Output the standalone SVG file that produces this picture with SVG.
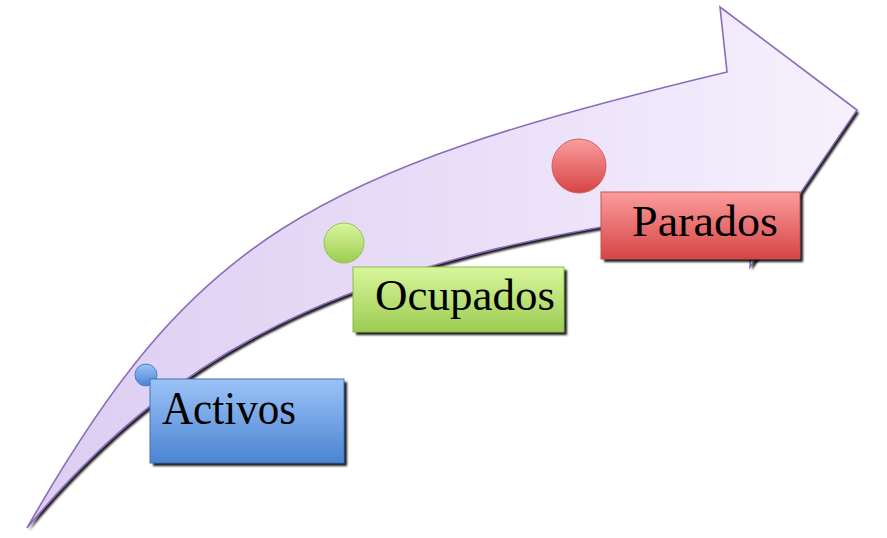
<svg xmlns="http://www.w3.org/2000/svg" width="887" height="538" viewBox="0 0 887 538">
<defs>
<linearGradient id="gArrow" x1="0" y1="0" x2="1" y2="0">
<stop offset="0" stop-color="#dccdf2"/>
<stop offset="0.6" stop-color="#ebe1f9"/>
<stop offset="1" stop-color="#f6f1fd"/>
</linearGradient>
<linearGradient id="gBlue" x1="0" y1="0" x2="0" y2="1">
<stop offset="0" stop-color="#9cc3f7"/>
<stop offset="1" stop-color="#4a84d2"/>
</linearGradient>
<linearGradient id="gGreen" x1="0" y1="0" x2="0" y2="1">
<stop offset="0" stop-color="#d9f69c"/>
<stop offset="1" stop-color="#9ccc52"/>
</linearGradient>
<linearGradient id="gRed" x1="0" y1="0" x2="0" y2="1">
<stop offset="0" stop-color="#fb9d9d"/>
<stop offset="1" stop-color="#d64444"/>
</linearGradient>
<filter id="blur" x="-10%" y="-10%" width="120%" height="120%">
<feGaussianBlur stdDeviation="1"/>
</filter>
</defs>
<style>
.lbl{font-family:"Liberation Serif","DejaVu Serif",serif;font-size:45px;fill:#000}
.shadow{fill:#000;opacity:0.9;filter:url(#blur)}
</style>
<g id="arrow">
<path class="shadow" transform="translate(2,3)" d="M27,528 C192,238 309,172 727,72 L720,7 L857,110 L750,267 L752,205 C370,251 187,336 27,528 Z"/>
<path d="M27,528 C192,238 309,172 727,72 L720,7 L857,110 L750,267 L752,205 C370,251 187,336 27,528 Z" fill="url(#gArrow)" stroke="#8b6cb9" stroke-width="1.6" stroke-linejoin="miter"/>
</g>
<g id="activos">
<circle cx="146" cy="375" r="11" fill="url(#gBlue)" stroke="#4d80c4" stroke-width="1"/>
<rect class="shadow" x="153" y="382" width="194" height="84"/>
<rect x="150" y="379" width="194" height="84" fill="url(#gBlue)" stroke="#3f72b8" stroke-width="1"/>
<text class="lbl" x="162" y="424" style="font-size:46px" textLength="134" lengthAdjust="spacingAndGlyphs">Activos</text>
</g>
<g id="ocupados">
<circle cx="344" cy="243" r="20" fill="url(#gGreen)" stroke="#9cc458" stroke-width="1"/>
<rect class="shadow" x="356" y="270" width="211" height="65"/>
<rect x="353" y="267" width="211" height="65" fill="url(#gGreen)" stroke="#8cba48" stroke-width="1"/>
<text class="lbl" x="375" y="310" textLength="180" lengthAdjust="spacingAndGlyphs">Ocupados</text>
</g>
<g id="parados">
<circle cx="579" cy="166" r="27" fill="url(#gRed)" stroke="#d06060" stroke-width="1"/>
<rect class="shadow" x="604" y="195" width="199" height="67"/>
<rect x="601" y="192" width="199" height="67" fill="url(#gRed)" stroke="#c45252" stroke-width="1"/>
<text class="lbl" x="632" y="236" textLength="146" lengthAdjust="spacingAndGlyphs">Parados</text>
</g>
</svg>
